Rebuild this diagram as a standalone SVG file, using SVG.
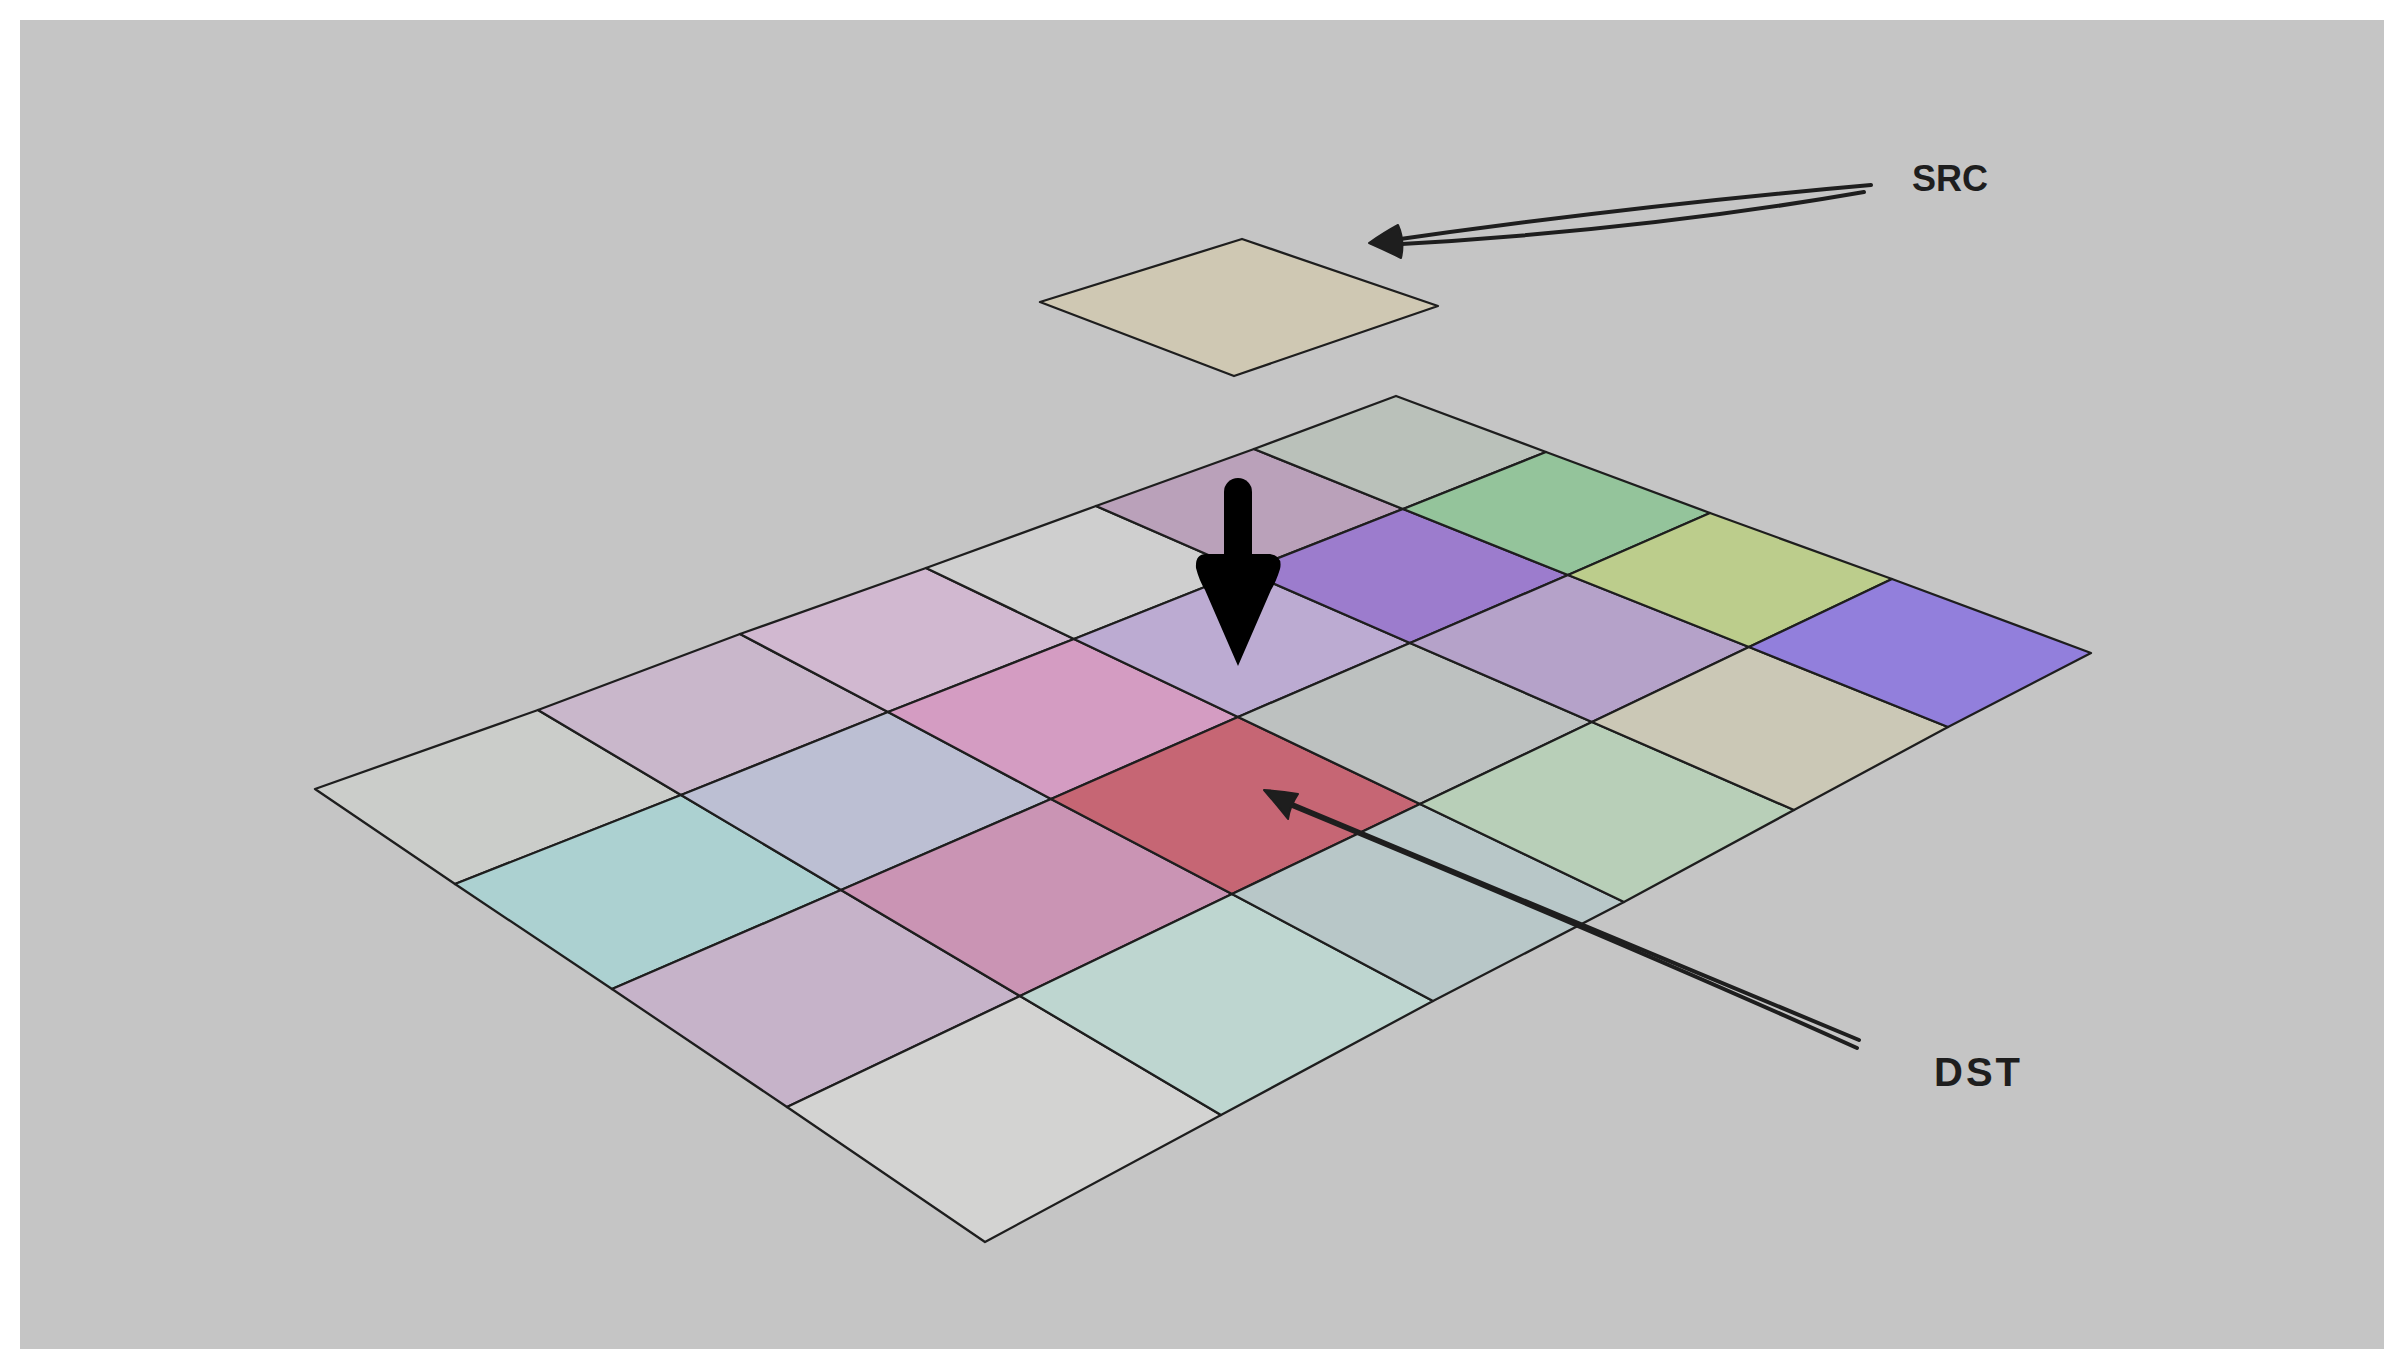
<svg xmlns="http://www.w3.org/2000/svg" width="2404" height="1369" viewBox="0 0 2404 1369">
<style>
.cell{stroke:#1e1e1e;stroke-width:2.3;stroke-linejoin:round}
.ln{fill:none;stroke:#1e1e1e;stroke-width:4;stroke-linecap:round}
.hd{fill:#1e1e1e;stroke:#1e1e1e;stroke-width:2;stroke-linejoin:round}
.lbl{font-family:"Liberation Sans",Arial,sans-serif;font-weight:bold;fill:#1e1e1e}
</style>
<rect x="0" y="0" width="2404" height="1369" fill="#ffffff"/>
<rect id="frame" x="20" y="20" width="2364" height="1329" fill="#c5c5c5"/>
<g id="src-tile">
<polygon class="cell" points="1040,302 1242,239 1438,306 1234,376" fill="#cfc8b3" stroke-width="2.5"/>
</g>
<g id="grid">
<g id="row0">
<polygon class="cell" points="315,789 538,710 681,795 455,884" fill="#cbcdca"/>
<polygon class="cell" points="538,710 740,634 888,712 681,795" fill="#c9b7cb"/>
<polygon class="cell" points="740,634 926,568 1074,639 888,712" fill="#d1b8d0"/>
<polygon class="cell" points="926,568 1096,506 1245,571 1074,639" fill="#cfcfcf"/>
<polygon class="cell" points="1096,506 1254,449 1403,509 1245,571" fill="#baa1ba"/>
<polygon class="cell" points="1254,449 1396,396 1546,452 1403,509" fill="#bac1ba"/>
</g>
<g id="row1">
<polygon class="cell" points="455,884 681,795 841,890 612,989" fill="#acd1d1"/>
<polygon class="cell" points="681,795 888,712 1051,799 841,890" fill="#bcbfd3"/>
<polygon class="cell" points="888,712 1074,639 1238,717 1051,799" fill="#d49cc2"/>
<polygon class="cell" points="1074,639 1245,571 1410,643 1238,717" fill="#bcabd2"/>
<polygon class="cell" points="1245,571 1403,509 1568,575 1410,643" fill="#9c7ccd"/>
<polygon class="cell" points="1403,509 1546,452 1710,513 1568,575" fill="#94c49b"/>
</g>
<g id="row2">
<polygon class="cell" points="612,989 841,890 1020,996 787,1107" fill="#c6b3c9"/>
<polygon class="cell" points="841,890 1051,799 1232,894 1020,996" fill="#ca94b4"/>
<polygon id="dst-cell" class="cell" points="1051,799 1238,717 1420,804 1232,894" fill="#c66674"/>
<polygon class="cell" points="1238,717 1410,643 1592,722 1420,804" fill="#bdc1c0"/>
<polygon class="cell" points="1410,643 1568,575 1749,647 1592,722" fill="#b5a2c9"/>
<polygon class="cell" points="1568,575 1710,513 1892,579 1749,647" fill="#bccd8c"/>
</g>
<g id="row3">
<polygon class="cell" points="787,1107 1020,996 1221,1115 985,1242" fill="#d3d3d2"/>
<polygon class="cell" points="1020,996 1232,894 1433,1001 1221,1115" fill="#bed6d0"/>
<polygon class="cell" points="1232,894 1420,804 1624,902 1433,1001" fill="#b8c7c8"/>
<polygon class="cell" points="1420,804 1592,722 1794,810 1624,902" fill="#b8cfb8"/>
<polygon class="cell" points="1592,722 1749,647 1948,727 1794,810" fill="#cbc8b6"/>
<polygon class="cell" points="1749,647 1892,579 2091,653 1948,727" fill="#927fdc"/>
</g>
</g>
<g id="connectors">
<g id="drop-arrow">
<line x1="1238" y1="492" x2="1238" y2="562" stroke="#000" stroke-width="28" stroke-linecap="round"/>
<path d="M1206,554 L1270,554 Q1283,556 1280,569 Q1276,582 1271,590 L1238,666 L1205,590 Q1199,580 1196,568 Q1195,554 1206,554 Z" fill="#000"/>
</g>
<g id="src-arrow">
<path class="ln" d="M1871,185 Q1620,207 1372,243"/>
<path class="ln" d="M1864,192 Q1640,231 1385,245"/>
<path class="hd" d="M1369,243 Q1385,232 1398,225 Q1405,241 1401,258 Q1385,250 1369,243 Z"/>
</g>
<g id="dst-arrow">
<path class="ln" d="M1859,1040 L1290,803"/>
<path class="ln" d="M1857,1048 Q1640,950 1292,806"/>
<path class="hd" d="M1264,790 Q1282,791 1298,794 Q1290,806 1288,819 Q1276,804 1264,790 Z"/>
</g>
</g>
<g id="label-src">
<text class="lbl" x="1912" y="191" font-size="36">SRC</text>
</g>
<g id="label-dst">
<text class="lbl" x="1934" y="1086" font-size="40" letter-spacing="3">DST</text>
</g>
</svg>
